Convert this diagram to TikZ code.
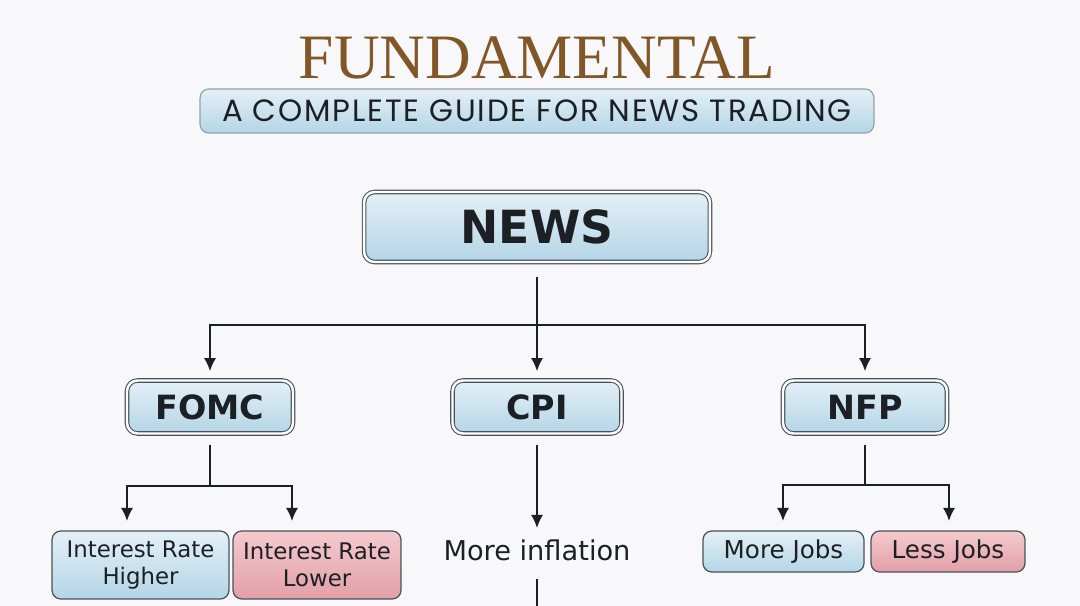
\documentclass[tikz,border=0pt]{standalone}
\usepackage{fontspec}
\setmainfont{DejaVu Sans}
\newfontfamily\titlefont{Liberation Serif}
\newfontfamily\subfont[LetterSpace=6]{Poppins}
\usetikzlibrary{arrows.meta}
\definecolor{ink}{HTML}{1C1F24}
\definecolor{gold}{HTML}{815727}
\definecolor{bluetop}{HTML}{E4F0F7}
\definecolor{bluebot}{HTML}{B4D5E7}
\definecolor{pinktop}{HTML}{F4CACF}
\definecolor{pinkbot}{HTML}{E29FA8}
\definecolor{edge}{HTML}{48525C}
\definecolor{paper}{HTML}{F8F8FA}
\begin{document}
\begin{tikzpicture}[x=0.02cm,y=-0.02cm,every node/.style={text=ink},
  bluebox/.style={draw=edge,line width=0.7pt,rounded corners=5pt,top color=bluetop,bottom color=bluebot,inner sep=0pt},
  pinkbox/.style={bluebox,top color=pinktop,bottom color=pinkbot},
  headbox/.style={bluebox,double=white,double distance=1.4pt,line width=0.6pt,rounded corners=6pt},
  link/.style={ink,line width=1.1pt},
  arr/.style={link,-{Latex[length=7.5pt,width=7pt]}}]
  \fill[paper] (0,0) rectangle (1080,606);
  \useasboundingbox (0,0) rectangle (1080,606);
  \node[font=\titlefont\fontsize{36}{42}\selectfont,text=gold] (title) at (537,58) {FUNDAMENTAL};
  \node[bluebox,draw=edge!55,minimum width=13.48cm,minimum height=0.88cm,font=\subfont\fontsize{17.5}{20}\selectfont] (sub) at (537,111) {A COMPLETE GUIDE FOR NEWS TRADING};
  \node[headbox,minimum width=6.92cm,minimum height=1.4cm,font=\bfseries\fontsize{26}{30}\selectfont] (news) at (537,227) {NEWS};
  \node[headbox,minimum width=3.32cm,minimum height=1.06cm,font=\bfseries\fontsize{19}{22}\selectfont] (fomc) at (210,407) {FOMC};
  \node[headbox,minimum width=3.38cm,minimum height=1.06cm,font=\bfseries\fontsize{19}{22}\selectfont] (cpi) at (537,407) {CPI};
  \node[headbox,minimum width=3.28cm,minimum height=1.06cm,font=\bfseries\fontsize{19}{22}\selectfont] (nfp) at (865,407) {NFP};
  \node[bluebox,minimum width=3.54cm,minimum height=1.36cm,align=center,font=\fontsize{13}{15.5}\selectfont] (higher) at (140.5,565) {Interest Rate\\Higher};
  \node[pinkbox,minimum width=3.36cm,minimum height=1.36cm,align=center,font=\fontsize{13}{15.5}\selectfont] (lower) at (317,565) {Interest Rate\\Lower};
  \node[font=\fontsize{15.5}{18}\selectfont] (infl) at (537,550) {More inflation};
  \node[bluebox,minimum width=3.22cm,minimum height=0.82cm,font=\fontsize{14}{17}\selectfont] (morejobs) at (783.5,551.5) {More Jobs};
  \node[pinkbox,minimum width=3.08cm,minimum height=0.82cm,font=\fontsize{14}{17}\selectfont] (lessjobs) at (948,551.5) {Less Jobs};
  \coordinate (split) at (537,325);
  \draw[link,shorten <=8pt] (news.south) -- (split);
  \draw[arr,shorten >=5pt] (split) -| (fomc.north);
  \draw[arr,shorten >=5pt] (split) -| (nfp.north);
  \draw[arr,shorten >=5pt] (split) -- (cpi.north);
  \coordinate (fsplit) at (210,486); \coordinate (fleft) at (127,521); \coordinate (fright) at (292,521);
  \draw[link,shorten <=6pt] (fomc.south) -- (fsplit);
  \draw[arr] (fsplit) -| (fleft); \draw[arr] (fsplit) -| (fright);
  \draw[arr,shorten <=6pt,shorten >=3pt] (cpi.south) -- (infl.north);
  \coordinate (cpiout) at (537,606);
  \draw[link,shorten <=7pt] (infl.south) -- (cpiout);
  \coordinate (nsplit) at (865,485); \coordinate (nleft) at (783,521); \coordinate (nright) at (949,521);
  \draw[link,shorten <=6pt] (nfp.south) -- (nsplit);
  \draw[arr] (nsplit) -| (nleft); \draw[arr] (nsplit) -| (nright);
\end{tikzpicture}
\end{document}
